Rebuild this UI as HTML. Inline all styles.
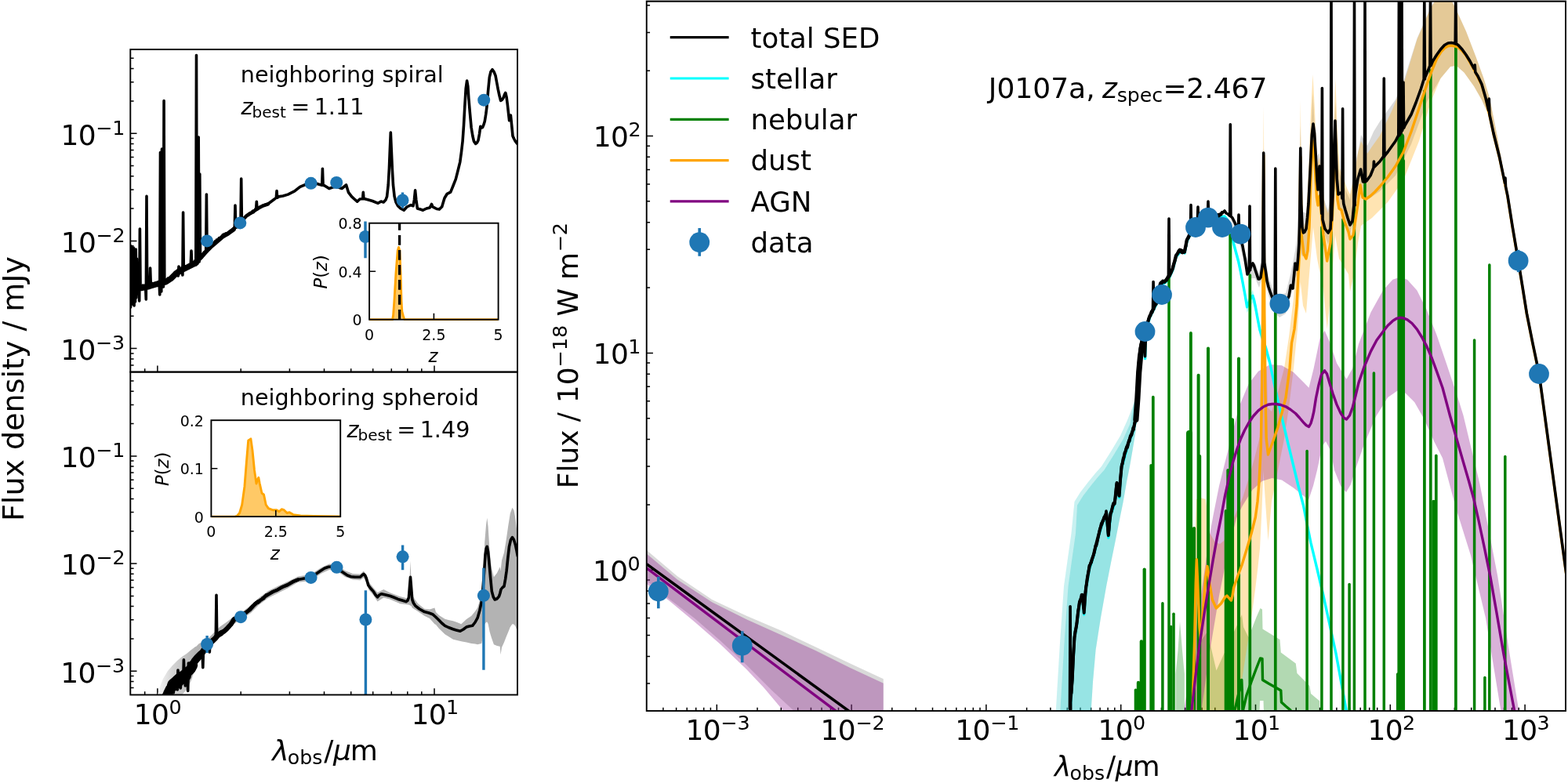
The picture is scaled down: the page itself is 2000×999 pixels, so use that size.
<!DOCTYPE html>
<html><head><meta charset="utf-8"><title>SED fits</title>
<style>
html,body{margin:0;padding:0;background:#fff;}
body{width:2000px;height:999px;overflow:hidden;}
svg{display:block;font-family:'DejaVu Sans', 'Liberation Sans', sans-serif;fill:#000;}
svg text{fill:#000;}
</style></head><body>
<svg width="2000" height="999" viewBox="0 0 2000 999">
<rect x="0" y="0" width="2000" height="999" fill="#fff"/>
<path d="M166.3,465.9 h4.3 M166.3,457.9 h4.3 M166.3,450.9 h4.3 M166.3,444.6 h8.2 M166.3,403.3 h4.3 M166.3,379.1 h4.3 M166.3,362.0 h4.3 M166.3,348.7 h4.3 M166.3,337.8 h4.3 M166.3,328.7 h4.3 M166.3,320.7 h4.3 M166.3,313.7 h4.3 M166.3,307.4 h8.2 M166.3,266.1 h4.3 M166.3,241.9 h4.3 M166.3,224.8 h4.3 M166.3,211.5 h4.3 M166.3,200.6 h4.3 M166.3,191.5 h4.3 M166.3,183.5 h4.3 M166.3,176.5 h4.3 M166.3,170.2 h8.2 M166.3,128.9 h4.3 M166.3,104.7 h4.3 M166.3,87.6 h4.3 M166.3,74.3 h4.3" stroke="#000" stroke-width="1.5" fill="none"/>
<text><tspan x="77.49" y="184.60" font-size="36" letter-spacing="-0.6">10</tspan><tspan x="122.10" y="171.60" font-size="25.4">−1</tspan></text>
<text><tspan x="77.69" y="321.80" font-size="36" letter-spacing="-0.6">10</tspan><tspan x="122.30" y="308.80" font-size="25.4">−2</tspan></text>
<text><tspan x="77.18" y="459.00" font-size="36" letter-spacing="-0.6">10</tspan><tspan x="121.79" y="446.00" font-size="25.4">−3</tspan></text>
<path d="M166.3,877.5 h4.3 M166.3,869.5 h4.3 M166.3,862.5 h4.3 M166.3,856.2 h8.2 M166.3,814.9 h4.3 M166.3,790.8 h4.3 M166.3,773.6 h4.3 M166.3,760.4 h4.3 M166.3,749.5 h4.3 M166.3,740.3 h4.3 M166.3,732.3 h4.3 M166.3,725.3 h4.3 M166.3,719.0 h8.2 M166.3,677.7 h4.3 M166.3,653.6 h4.3 M166.3,636.4 h4.3 M166.3,623.2 h4.3 M166.3,612.3 h4.3 M166.3,603.1 h4.3 M166.3,595.1 h4.3 M166.3,588.1 h4.3 M166.3,581.9 h8.2 M166.3,540.5 h4.3 M166.3,516.4 h4.3 M166.3,499.2 h4.3 M166.3,486.0 h4.3" stroke="#000" stroke-width="1.5" fill="none"/>
<text><tspan x="77.49" y="596.25" font-size="36" letter-spacing="-0.6">10</tspan><tspan x="122.10" y="583.25" font-size="25.4">−1</tspan></text>
<text><tspan x="77.69" y="733.45" font-size="36" letter-spacing="-0.6">10</tspan><tspan x="122.30" y="720.45" font-size="25.4">−2</tspan></text>
<text><tspan x="77.18" y="870.65" font-size="36" letter-spacing="-0.6">10</tspan><tspan x="121.79" y="857.65" font-size="25.4">−3</tspan></text>
<path d="M184.7,474.6 v-4.3 M200.9,474.6 v-8.2 M307.2,474.6 v-4.3 M369.4,474.6 v-4.3 M413.5,474.6 v-4.3 M447.7,474.6 v-4.3 M475.7,474.6 v-4.3 M499.3,474.6 v-4.3 M519.8,474.6 v-4.3 M537.8,474.6 v-4.3 M554.0,474.6 v-8.2" stroke="#000" stroke-width="1.5" fill="none"/>
<path d="M184.7,886.5 v-4.3 M200.9,886.5 v-8.2 M307.2,886.5 v-4.3 M369.4,886.5 v-4.3 M413.5,886.5 v-4.3 M447.7,886.5 v-4.3 M475.7,886.5 v-4.3 M499.3,886.5 v-4.3 M519.8,886.5 v-4.3 M537.8,886.5 v-4.3 M554.0,886.5 v-8.2" stroke="#000" stroke-width="1.5" fill="none"/>
<clipPath id="c1"><rect x="166.3" y="63.1" width="493.7" height="411.5"/></clipPath>
<g clip-path="url(#c1)">
<polyline points="180.0,367.5 190.0,365.5 200.0,362.5 212.0,359.5 218.0,355.5 224.0,349.5 232.0,344.5 240.0,340.5 250.0,335.5" fill="none" stroke="#000" stroke-width="7.5" stroke-linejoin="round" stroke-linecap="round"/>
<polyline points="250.0,334.8 257.0,327.8 264.0,319.8 270.0,313.8 277.0,307.8 284.0,301.8 291.0,297.8 298.0,292.8" fill="none" stroke="#000" stroke-width="5.5" stroke-linejoin="round" stroke-linecap="round"/>
<polyline points="298.0,292.3 306.0,284.3 314.0,275.7 323.8,269.4 330.1,265.3 336.0,262.3 342.0,260.3" fill="none" stroke="#000" stroke-width="4.4" stroke-linejoin="round" stroke-linecap="round"/>
<polyline points="165.9,372.2 166.6,392.0 167.3,314.0 168.0,372.2 166.3,372.4 167.3,372.2 167.4,371.8 168.1,380.0 168.8,318.0 169.5,371.8 168.3,371.8 168.9,370.6 169.6,388.0 170.3,316.0 171.0,370.6 169.3,371.7 170.3,370.6 170.4,369.2 171.1,390.0 171.8,322.0 172.5,369.2 171.3,370.7 171.8,368.5 172.5,385.0 173.2,318.0 173.9,368.5 172.3,367.7 173.0,369.5 173.7,380.0 174.4,330.0 175.1,369.5 173.3,368.6 174.3,369.6 175.3,368.3 176.3,368.7 177.0,366.5 177.7,384.0 178.4,292.0 179.1,366.5 177.3,365.9 178.3,366.6 179.3,365.5 180.3,366.1 181.3,366.0 182.3,364.1 183.3,364.5 184.3,364.5 185.3,366.2 185.6,364.1 186.3,382.0 187.0,250.4 187.7,364.1 186.3,365.5 187.3,363.5 188.3,365.2 189.3,363.1 190.3,364.3 190.9,362.3 191.6,342.0 192.3,362.3 191.3,362.5 192.3,361.8 193.3,364.1 194.3,361.8 195.3,361.6 196.3,363.6 197.3,362.9 198.3,360.9 199.3,362.6 200.3,361.0 201.3,361.2 202.3,359.5 203.1,360.6 203.8,376.0 204.5,194.5 205.2,360.6 203.3,361.5 204.3,360.5 205.1,360.2 205.8,372.0 206.5,190.0 207.2,360.2 205.3,361.1 206.3,360.6 207.3,358.6 207.7,357.8 208.4,366.0 209.1,128.5 209.8,357.8 208.3,358.5 209.3,357.7 210.3,357.4 211.3,356.9 212.3,357.2 213.3,357.4 214.3,355.0 215.3,356.3 216.3,354.6 217.3,353.9 218.3,354.7 219.3,352.6 220.3,351.1 221.3,350.6 222.3,350.3 223.3,347.4 224.3,349.2 225.3,345.8 226.3,347.3 226.6,344.8 227.3,352.0 228.0,340.0 228.7,344.8 227.3,347.0 228.3,343.9 229.3,345.6 230.3,343.7 231.3,343.7 232.2,341.0 232.9,351.0 233.6,271.0 234.3,341.0 232.3,341.4 233.3,341.0 234.3,340.9 235.3,342.7 236.3,339.9 237.3,341.1 238.3,341.1 239.3,340.7 240.3,338.4 241.3,337.9 242.3,337.9 243.3,336.4 244.0,320.0 244.7,336.4 243.3,338.2 244.3,335.7 245.3,337.1 246.3,336.7 247.3,336.4 248.3,333.5 249.1,332.4 249.8,338.0 250.5,70.6 251.2,332.4 249.3,335.7 250.3,332.5 251.3,332.2 251.8,332.0 252.5,334.0 253.2,175.0 253.9,332.0 252.3,332.0 253.3,332.0 253.4,329.6 254.1,334.0 254.8,222.0 255.5,329.6 254.3,329.2 255.3,330.0 256.3,327.8 257.3,326.1 258.3,325.0 259.3,323.4 260.3,322.0 261.3,321.0 262.3,321.5 262.7,320.9 263.4,248.0 264.1,320.9 263.3,321.3 264.3,317.7 265.3,316.3 266.3,318.2 267.3,315.8 268.3,314.4 269.3,312.9 270.3,313.0 271.3,312.9 272.3,310.9 273.3,309.9 274.3,308.0 275.3,309.7 276.3,306.2 277.3,306.7 278.3,306.9 279.3,303.9 280.3,304.9 281.3,304.7 282.3,302.8 283.3,302.5 284.3,299.6 285.3,300.1 286.3,298.6 287.3,300.1 288.3,297.9 289.3,297.8 290.3,298.9 291.3,297.8 292.3,297.5 293.3,295.2 294.3,294.6 295.3,294.6 296.3,293.2 297.3,291.9 298.3,291.4 299.3,289.4 300.0,262.0 300.7,289.4 299.3,289.6 300.3,289.3 301.3,290.2 302.3,289.1 303.3,287.1 304.3,285.7 305.3,284.2 306.3,282.4 307.0,282.1 307.7,228.0 308.4,282.1 307.3,281.9 308.3,282.4 309.3,281.6 310.3,279.0 311.3,279.2 312.3,278.1 313.3,276.7 314.3,275.7 315.3,275.3 316.3,273.5 317.3,273.9 318.3,272.0 319.3,271.9 320.3,272.2 321.3,271.3 322.3,269.4 323.3,270.8 324.3,269.2 325.3,268.4 326.3,266.0 326.6,267.0 327.3,257.2 328.0,267.0 327.3,267.0 328.3,265.4 329.3,266.0 330.1,265.0 336.0,262.0 342.0,260.0 350.5,253.7 352.3,252.3 353.0,243.6 353.7,252.3 355.4,250.9 361.0,250.0 367.3,248.1 375.7,243.9 382.7,238.3 389.7,235.5 396.7,233.5 403.0,234.0 407.9,235.5 410.7,236.3 411.4,215.2 412.1,236.3 414.2,236.9 419.8,240.6 424.0,239.0 429.0,238.0 436.0,240.5 441.6,236.0 444.4,245.3 448.6,250.9 452.0,254.0 455.6,257.2 459.0,254.0 461.2,253.7 462.6,253.7 463.3,245.3 464.0,253.7 465.4,253.7 470.0,255.0 475.2,256.5 482.2,259.3 486.0,257.0 489.2,257.9 492.0,255.0 493.6,250.6 495.2,236.0 496.4,215.0 497.4,190.0 498.3,169.1 499.2,190.0 500.3,215.0 501.5,236.0 503.1,250.6 505.0,258.0 507.5,262.7 511.0,266.0 515.2,268.2 519.0,264.0 524.0,261.6 527.0,262.7 528.4,255.0 529.6,242.9 530.8,255.0 532.4,266.0 536.0,267.0 539.5,268.2 544.0,266.0 548.3,264.9 550.5,260.5 552.0,264.0 553.8,264.9 557.0,266.5 560.4,267.1 563.7,263.8 565.4,258.0 567.0,252.8 570.3,247.3 574.7,245.1 578.0,237.0 581.3,228.6 584.0,218.0 586.8,206.6 588.5,194.0 590.1,180.1 591.5,160.0 592.8,136.1 594.2,113.0 595.6,103.0 596.8,110.0 597.8,125.1 599.5,145.0 601.1,162.5 602.8,173.0 604.4,180.1 606.7,183.4 608.5,182.0 610.0,179.0 611.5,171.0 612.8,161.4 614.2,163.0 615.5,162.5 617.0,159.0 618.3,154.8 619.7,146.0 621.0,136.1 622.6,116.0 624.3,98.6 626.0,91.5 628.0,88.7 630.0,91.5 632.0,96.4 633.6,105.0 635.3,114.1 637.0,122.0 638.6,128.4 640.3,127.5 641.9,125.1 643.4,121.0 644.8,118.5 646.1,124.0 647.4,133.9 648.5,144.0 649.6,153.7 650.5,149.0 651.4,147.1 652.7,160.0 654.0,173.5 655.6,177.0 657.3,180.1 660.6,184.5" fill="none" stroke="#000" stroke-width="3.6" stroke-linejoin="round" stroke-linecap="butt"/>
<line x1="466" y1="282.6" x2="466" y2="329.2" stroke="#1f77b4" stroke-width="3.4"/>
<circle cx="466" cy="302" r="8" fill="#1f77b4"/>
<circle cx="264" cy="307.4" r="8" fill="#1f77b4"/>
<circle cx="306.3" cy="284.4" r="8" fill="#1f77b4"/>
<circle cx="396.6" cy="233.8" r="8" fill="#1f77b4"/>
<circle cx="429.2" cy="233" r="8" fill="#1f77b4"/>
<line x1="513.5" y1="245.5" x2="513.5" y2="265.5" stroke="#1f77b4" stroke-width="3.4"/>
<circle cx="513.5" cy="255.5" r="8" fill="#1f77b4"/>
<circle cx="617.2" cy="127.7" r="8" fill="#1f77b4"/>
</g>
<clipPath id="c2"><rect x="166.3" y="474.6" width="493.7" height="411.9"/></clipPath>
<g clip-path="url(#c2)">
<linearGradient id="gfan" gradientUnits="userSpaceOnUse" x1="196" y1="0" x2="250" y2="0"><stop offset="0" stop-color="#ffffff"/><stop offset="0.45" stop-color="#d4d4d4"/><stop offset="1" stop-color="#b3b3b3"/></linearGradient>
<polygon points="201.0,886.5 204.0,876.0 208.0,866.0 214.0,856.0 220.0,849.0 226.0,843.0 232.0,838.0 238.0,834.0 244.0,829.0 248.0,826.0 250.0,825.0 250.0,850.0 248.0,856.0 244.0,868.0 238.0,880.0 232.0,886.5 226.0,886.5 220.0,886.5 214.0,886.5 208.0,886.5 204.0,886.5 201.0,886.5" fill="url(#gfan)" stroke="none"/>
<polygon points="248.0,826.0 250.0,825.0 254.0,821.0 262.0,818.0 270.0,810.0 280.0,800.0 290.0,793.0 300.0,785.0 310.0,780.0 320.0,772.0 330.0,763.0 342.0,754.0 354.0,748.0 367.0,742.0 380.0,735.5 396.0,733.0 410.0,724.0 420.0,719.5 430.0,720.5 440.0,728.0 450.0,732.0 459.4,732.5 463.8,728.5 467.2,733.0 470.0,742.0 476.3,750.0 481.5,755.9 489.3,752.0 497.0,756.0 510.2,761.1 520.6,763.7 522.5,740.0 523.5,715.5 524.6,742.0 525.8,759.8 533.0,770.0 541.4,776.7 548.0,777.5 554.4,775.4 556.0,781.0 560.0,785.0 567.5,789.7 572.0,791.0 577.9,792.3 583.0,794.0 588.3,796.2 595.0,790.0 601.3,785.8 606.0,780.0 609.1,775.4 612.0,766.0 614.3,754.6 616.0,735.0 617.5,712.0 618.2,692.1 620.0,670.0 621.3,660.8 622.6,672.0 624.7,705.1 627.0,725.0 629.9,736.3 634.0,731.0 637.7,723.3 638.6,728.0 640.0,715.0 643.0,705.1 645.5,690.0 648.2,671.2 650.8,655.0 653.4,647.8 655.5,651.0 657.3,660.8 659.0,675.0 660.4,692.1 660.4,809.2 659.0,803.0 657.3,798.8 655.5,796.5 653.4,796.2 650.8,800.0 648.2,806.6 645.5,813.0 643.0,819.6 640.0,826.0 638.6,835.2 637.7,824.8 634.0,824.0 629.9,822.2 627.0,814.0 624.7,806.6 622.6,796.0 621.3,793.6 620.0,794.0 618.2,796.2 617.5,802.0 616.0,812.0 614.3,820.9 612.0,821.5 609.1,822.2 606.0,821.5 601.3,820.9 595.0,819.5 588.3,818.3 583.0,817.0 577.9,815.7 572.0,812.0 567.5,809.2 560.0,802.0 556.0,797.0 554.4,796.2 548.0,789.0 541.4,785.8 533.0,780.0 525.8,775.4 524.6,773.0 523.5,772.8 522.5,772.0 520.6,771.5 510.2,770.2 497.0,764.5 489.3,762.4 481.5,767.6 476.3,759.5 470.0,752.0 467.2,743.0 463.8,737.0 459.4,740.2 450.0,739.5 440.0,736.0 430.0,728.5 420.0,727.0 410.0,731.5 396.0,741.0 380.0,743.0 367.0,750.5 354.0,757.0 342.0,763.0 330.0,772.0 320.0,782.0 310.0,789.0 300.0,795.0 290.0,803.0 280.0,812.0 270.0,822.0 262.0,831.0 254.0,841.0 250.0,850.0 248.0,856.0" fill="#b3b3b3" stroke="none"/>
<polyline points="208.0,899.0 210.6,892.9 214.0,885.0 217.2,878.5 221.0,874.0 223.0,872.3" fill="none" stroke="#000" stroke-width="12" stroke-linejoin="round" stroke-linecap="round"/>
<polyline points="221.0,874.0 226.0,869.7 230.0,866.0 234.9,863.1 236.0,862.0" fill="none" stroke="#000" stroke-width="16" stroke-linejoin="round" stroke-linecap="round"/>
<polyline points="234.0,862.6 234.9,862.1 239.0,858.0 243.7,853.3 246.0,848.7" fill="none" stroke="#000" stroke-width="12.5" stroke-linejoin="round" stroke-linecap="round"/>
<polyline points="244.0,852.0 248.1,843.8 252.0,839.1 256.0,835.1" fill="none" stroke="#000" stroke-width="9.5" stroke-linejoin="round" stroke-linecap="round"/>
<polyline points="254.0,836.8 256.9,834.0 260.0,829.9 264.1,826.0 268.0,821.2" fill="none" stroke="#000" stroke-width="8" stroke-linejoin="round" stroke-linecap="round"/>
<polyline points="266.0,823.5 269.0,819.8 274.5,814.4 277.8,810.5 282.0,808.0" fill="none" stroke="#000" stroke-width="7" stroke-linejoin="round" stroke-linecap="round"/>
<polyline points="280.0,808.9 283.0,807.2 287.7,804.0 291.0,800.4 294.3,796.8 298.7,790.0 300.0,789.5" fill="none" stroke="#000" stroke-width="6" stroke-linejoin="round" stroke-linecap="round"/>
<polyline points="298.0,791.1 298.7,790.0 303.0,788.5 307.1,787.2 313.0,782.0 318.5,778.0 323.0,773.0 327.3,769.2 330.0,767.5" fill="none" stroke="#000" stroke-width="5" stroke-linejoin="round" stroke-linecap="round"/>
<polyline points="328.0,768.8 330.0,767.5 333.9,764.8 338.0,761.0 342.7,758.2 348.0,755.0 353.7,752.7 360.0,749.0 367.0,746.1 374.0,742.0 380.0,739.6" fill="none" stroke="#000" stroke-width="4.4" stroke-linejoin="round" stroke-linecap="round"/>
<polyline points="208.0,894.6 208.9,890.5 209.8,893.9 210.7,885.5 211.6,888.5 212.5,884.5 213.4,879.0 214.3,882.0 215.2,875.0 216.1,877.5 217.0,871.7 217.9,870.7 218.8,873.3 219.7,876.6 220.6,870.1 221.3,884.0 222.0,872.0 222.7,870.1 220.6,867.8 221.5,868.0 222.4,871.7 223.3,874.4 224.2,869.6 225.1,866.8 225.6,862.3 226.3,880.0 227.0,855.0 227.7,862.3 226.0,872.4 226.9,861.4 227.8,869.5 228.7,862.4 229.6,859.9 230.3,878.0 231.0,866.0 231.7,859.9 229.6,860.0 230.5,859.0 231.4,860.6 232.3,865.6 233.0,862.0 233.7,870.0 234.4,841.8 235.1,862.0 233.2,858.1 234.1,862.0 235.0,862.0 235.6,857.8 236.3,875.0 237.0,860.0 237.7,857.8 235.9,858.2 236.8,859.2 237.7,853.0 238.6,852.1 239.0,857.1 239.7,881.5 240.4,846.0 241.1,857.1 239.5,852.8 240.4,857.1 241.3,853.4 242.2,851.3 243.1,853.3 244.0,850.7 244.9,847.2 245.8,850.8 246.7,848.0 247.6,841.2 248.5,843.3 249.4,841.7 250.3,843.0 251.2,840.9 252.1,836.7 253.0,840.7 253.9,833.7 254.8,835.0 255.7,836.4 256.6,831.3 257.5,832.6 258.1,831.4 258.8,851.7 259.5,828.0 260.2,831.4 258.4,828.3 259.3,831.5 260.2,831.1 261.1,828.9 262.0,829.2 262.9,825.8 263.8,826.6 264.7,825.2 265.6,824.0 266.5,822.4 266.6,822.5 267.3,832.0 268.0,818.0 268.7,822.5 267.4,823.0 268.3,822.3 269.2,819.2 270.1,819.2 271.0,815.6 271.9,817.5 272.8,816.4 273.7,817.0 274.6,815.4 275.3,811.6 276.0,759.3 276.7,811.6 275.5,811.9 276.4,811.3 277.3,811.5 278.2,807.8 279.1,809.2 280.0,807.4 280.9,806.7 281.8,805.9 282.7,808.5 283.6,805.1 284.5,805.0 285.4,805.1 286.3,806.6 287.2,802.5 288.1,803.3 289.0,802.8 289.9,803.3 290.8,802.0 291.7,801.2 292.6,797.7 293.5,797.3 294.4,796.0 295.3,796.9 296.2,795.9 297.1,790.9 298.0,789.7 298.9,788.8 299.8,788.4 300.7,789.3 301.6,789.2 302.5,788.1 303.4,787.1 304.3,787.9 305.2,787.5 306.1,787.7 307.0,788.4 307.9,787.0 308.8,785.7 309.7,785.2 310.6,784.6 311.5,782.2 312.4,783.6 313.3,782.5 314.2,782.1 315.1,781.2 316.0,779.5 316.9,778.9 317.8,777.5 318.7,778.1 319.6,775.6 320.5,774.7 321.4,774.0 322.3,772.9 323.2,772.4 324.1,770.9 325.0,769.9 325.9,769.5 326.8,768.6 327.7,768.6 328.6,767.1 329.5,768.8 330.4,767.5 331.3,765.7 332.2,765.3 333.1,765.0 334.0,764.4 334.9,762.9 335.8,763.9 336.7,763.5 337.6,761.3 338.5,760.7 339.4,759.1 342.7,758.2 348.0,755.0 353.7,752.7 360.0,749.0 367.0,746.1 374.0,742.0 380.2,739.5 388.0,738.0 396.0,736.8 402.0,733.0 408.6,728.5 414.0,725.0 419.1,723.3 424.0,723.0 429.5,724.5 434.0,728.0 438.6,731.1 443.0,734.0 447.7,735.8 453.0,736.2 459.4,736.3 461.8,734.0 463.8,732.4 465.6,734.0 467.2,737.6 468.5,742.0 469.8,746.7 473.0,751.0 476.3,754.6 479.0,759.0 481.5,761.8 484.0,759.0 486.7,757.7 492.0,759.0 497.2,760.3 502.0,762.0 507.6,764.4 513.0,766.0 518.0,767.6 520.0,766.0 521.4,762.4 522.4,750.0 523.5,736.3 524.6,750.0 525.8,765.0 527.5,769.5 529.7,772.8 535.0,777.0 541.4,780.6 547.0,782.0 551.8,783.7 555.5,787.0 559.6,791.0 563.5,795.0 567.5,798.3 572.0,800.5 577.9,802.7 582.0,804.0 587.0,805.3 591.0,803.0 594.8,800.1 598.5,799.0 602.6,798.3 606.0,794.0 609.1,788.4 611.8,779.0 614.3,767.6 615.7,754.0 616.9,738.9 618.0,723.0 619.0,707.7 620.1,700.0 621.3,697.3 622.6,704.0 623.9,718.1 625.6,737.0 627.3,754.6 629.2,761.5 631.2,765.0 633.8,764.0 636.4,761.1 637.8,757.0 639.0,752.0 641.0,749.5 643.0,748.0 644.6,739.0 646.1,728.5 647.8,712.0 649.5,697.3 651.4,689.0 653.4,685.6 655.4,688.5 657.3,694.7 658.9,702.0 660.4,710.3" fill="none" stroke="#000" stroke-width="3.6" stroke-linejoin="round"/>
<line x1="264.1" y1="811" x2="264.1" y2="833" stroke="#1f77b4" stroke-width="3.4"/>
<circle cx="264.1" cy="822" r="8" fill="#1f77b4"/>
<circle cx="307.1" cy="787.2" r="8" fill="#1f77b4"/>
<circle cx="396.6" cy="736.9" r="8" fill="#1f77b4"/>
<circle cx="429.5" cy="723.8" r="8" fill="#1f77b4"/>
<line x1="466.4" y1="753.3" x2="466.4" y2="890" stroke="#1f77b4" stroke-width="3.4"/>
<circle cx="466.4" cy="790.5" r="8" fill="#1f77b4"/>
<line x1="513.6" y1="695.5" x2="513.6" y2="727.2" stroke="#1f77b4" stroke-width="3.4"/>
<circle cx="513.6" cy="710.3" r="8" fill="#1f77b4"/>
<line x1="616.9" y1="724.6" x2="616.9" y2="854.8" stroke="#1f77b4" stroke-width="3.4"/>
<circle cx="616.9" cy="759.8" r="8" fill="#1f77b4"/>
</g>
<rect x="471.1" y="284.7" width="164.5" height="123.0" fill="#fff"/>
<clipPath id="ci1"><rect x="471.1" y="284.7" width="164.5" height="124.5"/></clipPath>
<g clip-path="url(#ci1)">
<polygon points="471.1,407.7 500.6,407.7 501.6,402.0 502.9,384.1 505.0,348.1 507.2,320.0 508.5,315.5 509.8,320.0 511.0,348.0 512.0,384.1 512.8,397.4 514.3,403.0 515.8,407.4 635.6,407.7" fill="#ffa500" fill-opacity="0.6" stroke="none"/>
<polyline points="471.1,407.7 500.6,407.7 501.6,402.0 502.9,384.1 505.0,348.1 507.2,320.0 508.5,315.5 509.8,320.0 511.0,348.0 512.0,384.1 512.8,397.4 514.3,403.0 515.8,407.4 635.6,407.7" fill="none" stroke="#ffa500" stroke-width="2.9" stroke-linejoin="round"/>
<line x1="509.6" y1="407.7" x2="509.6" y2="284.7" stroke="#000" stroke-width="3.3" stroke-dasharray="12.6 6.4"/>
</g>
<path d="M553.4,407.7 v-8 M471.1,346.2 h8" stroke="#000" stroke-width="1.6" fill="none"/>
<rect x="471.1" y="284.7" width="164.5" height="123.0" fill="none" stroke="#000" stroke-width="1.9"/>
<text x="461.6" y="292.3" font-size="19" text-anchor="end">0.8</text>
<text x="461.6" y="353.8" font-size="19" text-anchor="end">0.4</text>
<text x="461.6" y="415.3" font-size="19" text-anchor="end">0</text>
<text x="471.1" y="433.9" font-size="19" text-anchor="middle">0</text>
<text x="553.4" y="433.9" font-size="19" text-anchor="middle">2.5</text>
<text x="635.6" y="433.9" font-size="19" text-anchor="middle">5</text>
<text x="552.4" y="462.3" font-size="22.8" font-style="italic" text-anchor="middle">z</text>
<text transform="translate(417.0,346.8) rotate(-90)" font-size="22.8" text-anchor="middle"><tspan font-style="italic">P</tspan>(<tspan font-style="italic">z</tspan>)</text>
<rect x="269.4" y="536.2" width="164.8" height="122.89999999999998" fill="#fff"/>
<clipPath id="ci2"><rect x="269.4" y="536.2" width="164.8" height="124.39999999999998"/></clipPath>
<g clip-path="url(#ci2)">
<polygon points="269.4,659.1 300.0,659.0 302.4,658.3 305.6,654.5 308.7,644.0 311.9,620.9 314.4,589.4 316.7,562.0 318.3,561.0 319.9,559.9 322.0,574.6 324.5,599.9 327.0,617.1 328.5,612.0 329.8,609.3 331.2,616.7 334.0,629.3 336.5,631.0 339.2,644.0 342.4,648.6 347.6,650.7 352.9,650.7 356.0,652.8 359.2,649.7 362.3,650.7 366.1,654.5 369.3,653.7 373.9,656.6 383.4,657.9 400.2,658.5 434.2,659.0" fill="#ffa500" fill-opacity="0.6" stroke="none"/>
<polyline points="269.4,659.1 300.0,659.0 302.4,658.3 305.6,654.5 308.7,644.0 311.9,620.9 314.4,589.4 316.7,562.0 318.3,561.0 319.9,559.9 322.0,574.6 324.5,599.9 327.0,617.1 328.5,612.0 329.8,609.3 331.2,616.7 334.0,629.3 336.5,631.0 339.2,644.0 342.4,648.6 347.6,650.7 352.9,650.7 356.0,652.8 359.2,649.7 362.3,650.7 366.1,654.5 369.3,653.7 373.9,656.6 383.4,657.9 400.2,658.5 434.2,659.0" fill="none" stroke="#ffa500" stroke-width="2.9" stroke-linejoin="round"/>
</g>
<path d="M351.8,659.1 v-8 M269.4,597.7 h8" stroke="#000" stroke-width="1.6" fill="none"/>
<rect x="269.4" y="536.2" width="164.8" height="122.89999999999998" fill="none" stroke="#000" stroke-width="1.9"/>
<text x="259.9" y="543.8" font-size="19" text-anchor="end">0.2</text>
<text x="259.9" y="605.3" font-size="19" text-anchor="end">0.1</text>
<text x="259.9" y="666.7" font-size="19" text-anchor="end">0</text>
<text x="269.4" y="685.3" font-size="19" text-anchor="middle">0</text>
<text x="351.8" y="685.3" font-size="19" text-anchor="middle">2.5</text>
<text x="434.2" y="685.3" font-size="19" text-anchor="middle">5</text>
<text x="350.8" y="713.7" font-size="22.8" font-style="italic" text-anchor="middle">z</text>
<text transform="translate(215.3,598.3) rotate(-90)" font-size="22.8" text-anchor="middle"><tspan font-style="italic">P</tspan>(<tspan font-style="italic">z</tspan>)</text>
<text><tspan x="170.78" y="923.80" font-size="36" letter-spacing="-0.6">10</tspan><tspan x="215.39" y="910.80" font-size="25.4">0</tspan></text>
<text><tspan x="524.51" y="923.80" font-size="36" letter-spacing="-0.6">10</tspan><tspan x="569.12" y="910.80" font-size="25.4">1</tspan></text>
<rect x="166.3" y="63.1" width="493.7" height="411.5" fill="none" stroke="#000" stroke-width="1.9"/>
<rect x="166.3" y="474.6" width="493.7" height="411.9" fill="none" stroke="#000" stroke-width="1.9"/>
<text transform="translate(29.7,665) rotate(-90)" font-size="38">Flux density / mJy</text>
<text><tspan x="347.28" y="969.50" font-size="36.00" font-style="italic">λ</tspan><tspan x="366.81" y="974.50" font-size="25.20">obs</tspan><tspan x="413.20" y="969.50" font-size="36.00">/</tspan><tspan x="424.97" y="969.50" font-size="36.00" font-style="italic">μ</tspan><tspan x="446.73" y="969.50" font-size="36.00">m</tspan></text>
<text><tspan x="306.80" y="104.50" font-size="28.60">neighboring spiral</tspan></text>
<text><tspan x="307.48" y="145.80" font-size="28.60" font-style="italic">z</tspan><tspan x="321.48" y="150.25" font-size="20.02">best </tspan><tspan x="371.27" y="145.80" font-size="28.60">= </tspan><tspan x="400.66" y="145.80" font-size="28.60">1.11</tspan></text>
<text><tspan x="306.80" y="516.50" font-size="28.60">neighboring spheroid</tspan></text>
<text><tspan x="442.48" y="557.80" font-size="28.60" font-style="italic">z</tspan><tspan x="456.48" y="562.25" font-size="20.02">best </tspan><tspan x="506.27" y="557.80" font-size="28.60">= </tspan><tspan x="535.66" y="557.80" font-size="28.60">1.49</tspan></text>
<path d="M845.9,907.0 v-4.3 M862.6,907.0 v-4.3 M876.2,907.0 v-4.3 M887.7,907.0 v-4.3 M897.7,907.0 v-4.3 M906.4,907.0 v-4.3 M914.3,907.0 v-8.2 M966.0,907.0 v-4.3 M996.3,907.0 v-4.3 M1017.7,907.0 v-4.3 M1034.4,907.0 v-4.3 M1048.0,907.0 v-4.3 M1059.5,907.0 v-4.3 M1069.5,907.0 v-4.3 M1078.2,907.0 v-4.3 M1086.1,907.0 v-8.2 M1137.8,907.0 v-4.3 M1168.1,907.0 v-4.3 M1189.5,907.0 v-4.3 M1206.2,907.0 v-4.3 M1219.8,907.0 v-4.3 M1231.3,907.0 v-4.3 M1241.3,907.0 v-4.3 M1250.0,907.0 v-4.3 M1257.9,907.0 v-8.2 M1309.6,907.0 v-4.3 M1339.9,907.0 v-4.3 M1361.3,907.0 v-4.3 M1378.0,907.0 v-4.3 M1391.6,907.0 v-4.3 M1403.1,907.0 v-4.3 M1413.1,907.0 v-4.3 M1421.8,907.0 v-4.3 M1429.7,907.0 v-8.2 M1481.4,907.0 v-4.3 M1511.7,907.0 v-4.3 M1533.1,907.0 v-4.3 M1549.8,907.0 v-4.3 M1563.4,907.0 v-4.3 M1574.9,907.0 v-4.3 M1584.9,907.0 v-4.3 M1593.6,907.0 v-4.3 M1601.5,907.0 v-8.2 M1653.2,907.0 v-4.3 M1683.5,907.0 v-4.3 M1704.9,907.0 v-4.3 M1721.6,907.0 v-4.3 M1735.2,907.0 v-4.3 M1746.7,907.0 v-4.3 M1756.7,907.0 v-4.3 M1765.4,907.0 v-4.3 M1773.3,907.0 v-8.2 M1825.0,907.0 v-4.3 M1855.3,907.0 v-4.3 M1876.7,907.0 v-4.3 M1893.4,907.0 v-4.3 M1907.0,907.0 v-4.3 M1918.5,907.0 v-4.3 M1928.5,907.0 v-4.3 M1937.2,907.0 v-4.3 M1945.1,907.0 v-8.2 M824.75,872.0 h4.3 M824.75,837.4 h4.3 M824.75,810.5 h4.3 M824.75,788.6 h4.3 M824.75,770.1 h4.3 M824.75,754.0 h4.3 M824.75,739.9 h4.3 M824.75,727.2 h8.2 M824.75,643.9 h4.3 M824.75,595.1 h4.3 M824.75,560.5 h4.3 M824.75,533.7 h4.3 M824.75,511.8 h4.3 M824.75,493.2 h4.3 M824.75,477.2 h4.3 M824.75,463.0 h4.3 M824.75,450.4 h8.2 M824.75,367.0 h4.3 M824.75,318.3 h4.3 M824.75,283.7 h4.3 M824.75,256.8 h4.3 M824.75,234.9 h4.3 M824.75,216.4 h4.3 M824.75,200.3 h4.3 M824.75,186.2 h4.3 M824.75,173.5 h8.2 M824.75,90.2 h4.3 M824.75,41.4 h4.3 M824.75,6.8 h4.3" stroke="#000" stroke-width="1.5" fill="none"/>
<clipPath id="cr"><rect x="824.75" y="1.25" width="1172.25" height="905.75"/></clipPath>
<g clip-path="url(#cr)">
<g fill="#808080" fill-opacity="0.3" stroke="none">
<polygon points="824.8,702.1 864.0,735.2 908.1,764.9 952.2,785.8 996.2,804.5 1040.3,825.5 1084.3,846.4 1126.8,866.2 1126.8,910.0 1015.0,910.0 1011.6,905.9 985.2,881.6 952.2,848.6 919.1,817.8 886.1,789.1 853.0,763.8 824.8,741.0"/>
<polygon points="1352.1,910.0 1354.5,870.0 1357.5,820.0 1362.5,748.0 1367.5,712.0 1372.0,680.5 1374.0,644.5 1381.5,632.5 1391.5,619.5 1400.5,608.5 1408.5,599.5 1420.5,580.5 1432.5,560.5 1441.5,540.5 1445.6,517.0 1450.0,500.0 1451.6,473.0 1454.6,440.0 1460.0,424.0 1460.0,427.0 1455.2,444.0 1452.2,477.0 1450.6,510.0 1448.6,550.0 1445.0,572.0 1441.0,595.0 1437.0,615.0 1432.7,640.0 1427.0,668.0 1421.9,694.0 1417.0,718.0 1411.1,748.1 1404.0,788.0 1397.6,829.0 1394.0,870.0 1391.5,910.0"/>
<polygon points="1570.0,278.0 1580.0,294.0 1588.0,324.0 1594.0,336.0 1601.0,336.0 1606.0,348.0 1609.0,328.0 1611.4,188.0 1614.0,328.0 1618.0,353.0 1624.0,370.0 1632.0,376.0 1640.0,374.0 1646.0,350.0 1652.0,320.0 1656.0,290.0 1658.8,160.0 1661.0,270.0 1666.0,272.0 1670.0,210.0 1674.5,120.0 1679.0,200.0 1683.0,195.0 1687.0,250.0 1694.0,268.0 1699.0,240.0 1703.3,130.0 1707.0,215.0 1713.0,235.0 1722.0,255.0 1727.0,215.0 1733.0,190.0 1736.0,172.0 1744.0,186.0 1752.0,168.0 1760.0,155.0 1770.0,141.0 1780.0,127.0 1792.0,98.0 1807.5,49.0 1825.0,9.0 1832.5,-2.0 1850.0,-2.0 1857.5,12.5 1870.0,40.0 1882.5,72.5 1892.5,100.0 1900.0,125.0 1910.0,175.0 1923.0,248.0 1936.6,331.0 1963.0,475.0 1997.0,724.0 1997.0,728.0 1963.0,479.0 1936.6,334.0 1923.0,252.0 1910.0,190.0 1900.0,150.0 1890.0,127.5 1880.0,110.0 1867.5,92.5 1857.5,83.8 1850.0,85.0 1837.5,100.0 1820.0,130.0 1800.0,184.0 1780.0,224.0 1760.0,244.0 1740.0,258.0 1736.0,240.0 1733.0,250.0 1727.0,275.0 1722.0,300.0 1713.0,275.0 1707.0,262.0 1703.3,180.0 1699.0,290.0 1694.0,312.0 1687.0,292.0 1683.0,245.0 1679.0,240.0 1674.5,190.0 1670.0,282.0 1666.0,327.0 1661.0,327.0 1658.8,322.0 1656.0,347.0 1652.0,355.0 1646.0,379.0 1640.0,400.0 1632.0,405.0 1624.0,397.0 1618.0,377.0 1611.4,350.0 1606.0,367.0 1601.0,355.0 1594.0,355.0 1588.0,339.0 1580.0,307.0 1570.0,280.0"/>
</g>
<polygon points="1346.6,910.0 1349.0,870.0 1352.0,820.0 1357.0,748.0 1362.0,712.0 1366.5,680.5 1370.5,640.0 1378.0,628.0 1388.0,615.0 1397.0,604.0 1405.0,595.0 1417.0,576.0 1429.0,556.0 1438.0,536.0 1445.6,517.0 1450.0,500.0 1451.6,473.0 1454.6,440.0 1460.0,424.0 1460.0,424.0 1454.6,440.0 1451.6,473.0 1450.0,500.0 1445.6,517.0 1441.5,540.5 1432.5,560.5 1420.5,580.5 1408.5,599.5 1400.5,608.5 1391.5,619.5 1381.5,632.5 1374.0,644.5 1372.0,680.5 1367.5,712.0 1362.5,748.0 1357.5,820.0 1354.5,870.0 1352.1,910.0" fill="#808080" fill-opacity="0.13" stroke="none"/>
<polygon points="1346.6,910.0 1349.0,870.0 1352.0,820.0 1357.0,748.0 1362.0,712.0 1366.5,680.5 1370.5,640.0 1378.0,628.0 1388.0,615.0 1397.0,604.0 1405.0,595.0 1417.0,576.0 1429.0,556.0 1438.0,536.0 1445.6,517.0 1450.0,500.0 1451.6,473.0 1454.6,440.0 1460.0,424.0 1460.0,424.0 1454.6,440.0 1451.6,473.0 1450.0,500.0 1445.6,517.0 1441.5,540.5 1432.5,560.5 1420.5,580.5 1408.5,599.5 1400.5,608.5 1391.5,619.5 1381.5,632.5 1374.0,644.5 1372.0,680.5 1367.5,712.0 1362.5,748.0 1357.5,820.0 1354.5,870.0 1352.1,910.0" fill="#00ffff" fill-opacity="0.16" stroke="none"/>
<g fill="#00ffff" fill-opacity="0.3" stroke="none">
<polygon points="1352.1,910.0 1354.5,870.0 1357.5,820.0 1362.5,748.0 1367.5,712.0 1372.0,680.5 1374.0,644.5 1381.5,632.5 1391.5,619.5 1400.5,608.5 1408.5,599.5 1420.5,580.5 1432.5,560.5 1441.5,540.5 1445.6,517.0 1450.0,500.0 1451.6,473.0 1454.6,440.0 1460.0,424.0 1460.0,427.0 1455.2,444.0 1452.2,477.0 1450.6,510.0 1448.6,550.0 1445.0,572.0 1441.0,595.0 1437.0,615.0 1432.7,640.0 1427.0,668.0 1421.9,694.0 1417.0,718.0 1411.1,748.1 1404.0,788.0 1397.6,829.0 1394.0,870.0 1391.5,910.0"/>
<polygon points="1566.0,276.0 1573.5,304.0 1579.8,327.0 1585.2,354.0 1590.6,384.0 1597.8,370.0 1601.4,384.0 1606.8,413.0 1620.0,458.0 1635.0,528.0 1650.0,590.0 1662.5,640.0 1672.0,688.0 1688.0,755.0 1704.0,829.0 1719.0,905.7 1720.0,910.0 1715.0,910.0 1715.0,905.7 1704.0,838.0 1688.0,765.0 1672.0,698.0 1662.5,650.0 1650.0,600.0 1635.0,538.0 1620.0,470.0 1606.8,428.0 1601.4,399.0 1597.8,386.0 1590.6,399.0 1585.2,368.0 1579.8,341.0 1573.5,316.0 1566.0,284.0"/>
</g>
<g fill="#008000" fill-opacity="0.3" stroke="none">
<polygon points="1499.5,910.0 1499.5,860.0 1502.5,830.0 1505.0,793.0 1508.0,830.0 1510.8,860.0 1510.8,910.0"/>
<polygon points="1531.0,910.0 1531.5,818.0 1540.0,806.0 1551.5,855.5 1584.0,784.0 1586.0,800.0 1592.5,813.0 1602.5,787.5 1607.5,776.0 1610.0,777.5 1610.5,802.5 1632.5,816.0 1633.8,832.5 1652.8,846.4 1654.4,859.0 1670.4,875.0 1672.0,885.0 1683.3,894.5 1683.3,910.0 1612.0,910.0 1611.5,894.0 1607.0,894.0 1606.5,910.0"/>
</g>
<g fill="#ffa500" fill-opacity="0.3" stroke="none">
<polygon points="1518.0,910.0 1521.0,850.0 1523.0,720.0 1526.0,637.0 1531.0,635.0 1538.0,637.0 1543.0,680.0 1550.0,692.0 1556.0,694.0 1561.0,690.0 1568.0,675.0 1577.0,653.0 1585.0,635.0 1593.8,607.0 1600.0,585.0 1607.0,557.0 1609.5,400.0 1611.7,135.0 1614.0,400.0 1617.0,520.0 1622.0,525.0 1630.0,500.0 1638.0,470.0 1644.0,430.0 1650.0,380.0 1655.0,320.0 1657.5,250.0 1658.8,127.5 1660.2,250.0 1663.0,290.0 1666.0,280.0 1669.0,220.0 1672.0,140.0 1674.5,95.0 1677.0,140.0 1680.0,210.0 1683.0,200.0 1686.0,230.0 1690.0,262.0 1694.0,272.0 1698.0,250.0 1701.0,170.0 1703.3,100.0 1706.0,170.0 1709.0,215.0 1713.0,225.0 1718.0,240.0 1722.0,248.0 1727.0,225.0 1732.0,195.0 1736.0,180.0 1744.0,196.0 1750.0,187.0 1760.0,173.0 1775.0,142.0 1792.5,100.0 1807.5,50.0 1825.0,10.0 1832.5,-2.0 1850.0,-2.0 1857.5,12.5 1870.0,40.0 1882.5,72.5 1892.5,100.0 1900.0,125.0 1910.0,175.0 1923.0,248.0 1936.6,331.0 1963.0,475.0 1997.0,724.0 1997.0,728.0 1963.0,479.0 1936.6,334.0 1923.0,252.0 1910.0,190.0 1900.0,150.0 1890.0,127.5 1880.0,110.0 1867.5,92.5 1857.5,83.8 1850.0,85.0 1837.5,100.0 1825.0,130.0 1810.0,180.0 1790.0,230.0 1770.0,258.0 1750.0,278.0 1736.0,288.0 1732.0,310.0 1727.0,350.0 1722.0,372.0 1720.0,350.0 1714.0,340.0 1708.0,330.0 1703.0,300.0 1697.0,380.0 1692.7,420.0 1688.0,370.0 1684.0,350.0 1680.0,330.0 1675.0,290.0 1670.0,350.0 1666.0,400.0 1662.0,390.0 1658.8,360.0 1655.0,420.0 1650.0,470.0 1644.0,520.0 1638.0,560.0 1630.0,600.0 1622.0,640.0 1617.5,690.0 1614.0,640.0 1611.4,600.0 1609.5,650.0 1607.0,700.0 1604.0,728.0 1601.0,752.5 1597.0,782.0 1592.5,813.5 1588.0,842.0 1584.0,868.0 1580.5,910.0"/>
</g>
<g fill="#800080" fill-opacity="0.3" stroke="none">
<polygon points="824.8,706.5 864.0,739.6 908.1,768.2 952.2,790.2 996.2,810.0 1040.3,829.9 1084.3,851.9 1126.8,871.7 1126.8,910.0 1002.0,910.0 998.4,905.9 974.2,877.2 952.2,854.1 919.1,822.2 886.1,793.5 853.0,766.0 824.8,745.1"/>
<polygon points="1509.0,910.0 1510.0,906.0 1517.5,860.0 1530.0,772.5 1542.5,685.0 1547.5,657.5 1555.0,620.0 1567.5,570.0 1580.0,520.0 1592.5,490.0 1605.0,473.8 1620.0,465.0 1635.0,466.3 1650.0,475.0 1662.5,487.5 1669.5,494.7 1675.7,469.8 1683.4,432.6 1689.6,421.8 1695.8,435.7 1705.1,463.6 1717.5,483.8 1725.3,469.8 1733.0,438.8 1748.5,398.5 1764.0,370.6 1776.4,356.7 1785.7,353.6 1795.0,356.7 1807.4,370.6 1819.8,395.4 1832.2,426.4 1845.0,464.0 1860.0,509.0 1866.5,530.0 1887.5,617.5 1910.3,735.3 1925.5,834.0 1936.9,904.5 1938.0,910.0 1915.0,910.0 1914.0,904.5 1895.0,788.6 1876.0,708.7 1857.0,648.0 1840.0,584.6 1829.1,562.9 1816.7,535.0 1804.3,513.3 1792.0,500.9 1782.6,498.4 1770.2,507.0 1754.7,531.9 1739.2,569.0 1728.4,600.0 1723.0,618.0 1717.0,628.0 1710.0,620.0 1702.0,600.0 1697.4,575.3 1691.0,563.0 1686.5,569.0 1680.0,600.0 1675.0,620.0 1669.0,638.0 1662.5,632.5 1650.0,622.5 1635.0,612.5 1622.5,610.0 1610.0,613.8 1597.5,625.0 1585.0,645.0 1577.5,660.0 1567.5,697.5 1555.0,760.0 1542.5,835.0 1532.5,906.0 1533.0,910.0"/>
</g>
<polyline points="1364.6,910.0 1365.5,900.0 1367.8,866.0 1370.5,815.0 1373.2,799.0 1377.3,769.0 1380.5,761.0 1382.7,784.0 1385.4,750.0 1389.5,726.0 1394.9,709.6 1400.3,688.0 1405.7,669.0 1411.1,657.0 1413.8,686.0 1416.5,658.0 1421.9,642.0 1424.6,618.3 1427.6,635.0 1430.6,597.3 1438.1,570.2 1445.6,549.2 1448.6,537.2 1450.1,510.2 1451.6,477.1 1454.6,444.1 1459.4,430.0 1460.6,457.6 1461.8,422.0 1466.6,405.1 1471.1,396.1 1475.6,387.0 1480.0,364.0 1487.0,360.0 1491.6,354.0 1496.0,344.0 1500.0,328.0 1506.0,321.0 1511.0,323.0 1514.0,308.0 1518.0,300.0 1525.0,289.0 1532.0,280.5 1541.0,279.0 1550.0,279.0 1558.0,277.0 1562.0,276.0 1566.0,281.0 1570.0,294.0 1573.5,310.6 1576.5,322.0 1579.8,334.0 1582.5,347.0 1585.2,361.0 1588.0,376.0 1590.6,391.7 1593.0,386.0 1595.5,380.0 1597.8,377.3 1599.6,383.0 1601.4,391.7 1604.0,406.0 1606.8,420.5 1610.5,432.0 1614.0,442.0 1619.5,462.0 1627.0,498.0 1635.0,532.5 1642.0,562.0 1650.0,595.0 1656.0,620.0 1662.5,645.0 1667.0,668.0 1672.0,692.6 1680.0,726.0 1688.0,760.0 1696.0,797.0 1704.0,833.6 1711.0,872.0 1717.0,905.7 1718.0,910.0" fill="none" stroke="#00ffff" stroke-width="3.4" stroke-linejoin="round"/>
<line x1="1448.6" y1="910" x2="1448.6" y2="880.5" stroke="#008000" stroke-width="3.8" stroke-linecap="round"/>
<line x1="1452.0" y1="910" x2="1452.0" y2="871" stroke="#008000" stroke-width="4.4" stroke-linecap="round"/>
<line x1="1455.9" y1="910" x2="1455.9" y2="818.4" stroke="#008000" stroke-width="4.4" stroke-linecap="round"/>
<line x1="1459.7" y1="910" x2="1459.7" y2="726.5" stroke="#008000" stroke-width="4.2" stroke-linecap="round"/>
<line x1="1468.1" y1="910" x2="1468.1" y2="593.8" stroke="#008000" stroke-width="3.5" stroke-linecap="round"/>
<line x1="1470.8" y1="910" x2="1470.8" y2="506.7" stroke="#008000" stroke-width="3.7" stroke-linecap="round"/>
<line x1="1482.9" y1="910" x2="1482.9" y2="769.7" stroke="#008000" stroke-width="3.5" stroke-linecap="round"/>
<line x1="1491" y1="910" x2="1491" y2="355" stroke="#008000" stroke-width="3.5" stroke-linecap="round"/>
<line x1="1493.6" y1="910" x2="1493.6" y2="799.5" stroke="#008000" stroke-width="3.5" stroke-linecap="round"/>
<line x1="1497" y1="910" x2="1497" y2="783.2" stroke="#008000" stroke-width="3.5" stroke-linecap="round"/>
<line x1="1517" y1="910" x2="1517" y2="553" stroke="#008000" stroke-width="8.0" stroke-linecap="round"/>
<line x1="1518.9" y1="910" x2="1518.9" y2="425" stroke="#008000" stroke-width="3.8" stroke-linecap="round"/>
<line x1="1523" y1="910" x2="1523" y2="674" stroke="#008000" stroke-width="4.2" stroke-linecap="round"/>
<line x1="1528.6" y1="910" x2="1528.6" y2="478.7" stroke="#008000" stroke-width="4.0" stroke-linecap="round"/>
<line x1="1530.2" y1="910" x2="1530.2" y2="582" stroke="#008000" stroke-width="4.0" stroke-linecap="round"/>
<line x1="1541" y1="910" x2="1541" y2="444.5" stroke="#008000" stroke-width="4.0" stroke-linecap="round"/>
<line x1="1563.6" y1="910" x2="1563.6" y2="652" stroke="#008000" stroke-width="3.8" stroke-linecap="round"/>
<line x1="1566.3" y1="910" x2="1566.3" y2="600" stroke="#008000" stroke-width="4.0" stroke-linecap="round"/>
<line x1="1569.3" y1="910" x2="1569.3" y2="300" stroke="#008000" stroke-width="4.0" stroke-linecap="round"/>
<line x1="1571.3" y1="910" x2="1571.3" y2="536" stroke="#008000" stroke-width="5.5" stroke-linecap="round"/>
<line x1="1580" y1="910" x2="1580" y2="457.5" stroke="#008000" stroke-width="4.0" stroke-linecap="round"/>
<line x1="1594.3" y1="910" x2="1594.3" y2="351" stroke="#008000" stroke-width="3.7" stroke-linecap="round"/>
<line x1="1626.8" y1="910" x2="1626.8" y2="398" stroke="#008000" stroke-width="3.7" stroke-linecap="round"/>
<line x1="1667.1" y1="910" x2="1667.1" y2="575.5" stroke="#008000" stroke-width="3.5" stroke-linecap="round"/>
<line x1="1685.9" y1="910" x2="1685.9" y2="290" stroke="#008000" stroke-width="3.5" stroke-linecap="round"/>
<line x1="1698" y1="910" x2="1698" y2="296" stroke="#008000" stroke-width="3.5" stroke-linecap="round"/>
<line x1="1712.9" y1="910" x2="1712.9" y2="280" stroke="#008000" stroke-width="3.5" stroke-linecap="round"/>
<line x1="1721.1" y1="910" x2="1721.1" y2="745.4" stroke="#008000" stroke-width="3.5" stroke-linecap="round"/>
<line x1="1727.4" y1="910" x2="1727.4" y2="262" stroke="#008000" stroke-width="3.5" stroke-linecap="round"/>
<line x1="1741" y1="910" x2="1741" y2="232" stroke="#008000" stroke-width="3.5" stroke-linecap="round"/>
<line x1="1752.4" y1="910" x2="1752.4" y2="476" stroke="#008000" stroke-width="3.5" stroke-linecap="round"/>
<line x1="1765.3" y1="910" x2="1765.3" y2="200" stroke="#008000" stroke-width="3.5" stroke-linecap="round"/>
<line x1="1782.8" y1="910" x2="1782.8" y2="860" stroke="#008000" stroke-width="3.7" stroke-linecap="round"/>
<line x1="1786.8" y1="910" x2="1786.8" y2="174" stroke="#008000" stroke-width="8.8" stroke-linecap="round"/>
<line x1="1790.3" y1="910" x2="1790.3" y2="205" stroke="#008000" stroke-width="3.5" stroke-linecap="round"/>
<line x1="1816.9" y1="910" x2="1816.9" y2="116" stroke="#008000" stroke-width="3.7" stroke-linecap="round"/>
<line x1="1824.8" y1="910" x2="1824.8" y2="90" stroke="#008000" stroke-width="3.7" stroke-linecap="round"/>
<line x1="1828.6" y1="910" x2="1828.6" y2="640" stroke="#008000" stroke-width="4.3" stroke-linecap="round"/>
<line x1="1831.8" y1="910" x2="1831.8" y2="581.4" stroke="#008000" stroke-width="3.7" stroke-linecap="round"/>
<line x1="1856.9" y1="910" x2="1856.9" y2="57" stroke="#008000" stroke-width="3.7" stroke-linecap="round"/>
<line x1="1880.6" y1="910" x2="1880.6" y2="434" stroke="#008000" stroke-width="3.5" stroke-linecap="round"/>
<line x1="1893.9" y1="910" x2="1893.9" y2="864.6" stroke="#008000" stroke-width="3.5" stroke-linecap="round"/>
<line x1="1899.8" y1="910" x2="1899.8" y2="338" stroke="#008000" stroke-width="3.5" stroke-linecap="round"/>
<line x1="1919.8" y1="910" x2="1919.8" y2="582.5" stroke="#008000" stroke-width="3.5" stroke-linecap="round"/>
<polyline points="1574.5,910.0 1575.0,906.0 1578.0,893.0 1581.0,880.0 1583.0,868.0 1583.8,867.5 1584.3,880.0 1584.8,906.0 1585.5,906.0 1590.0,887.0 1596.0,870.0 1602.0,854.0 1607.5,840.0 1610.0,840.5 1610.5,867.5 1618.0,872.0 1626.0,876.5 1633.8,881.0 1634.5,896.0 1640.0,901.0 1646.0,906.0 1647.0,910.0" fill="none" stroke="#008000" stroke-width="3.4" stroke-linejoin="round"/>
<polyline points="1520.5,910.0 1521.5,890.0 1523.8,810.0 1525.2,745.0 1526.3,713.8 1527.5,740.0 1528.8,772.5 1530.0,800.0 1531.3,815.0 1533.0,800.0 1535.0,772.5 1538.0,735.0 1540.0,722.5 1541.2,730.0 1542.5,742.5 1546.3,765.0 1551.3,776.0 1557.5,770.0 1562.5,762.0 1565.0,760.0 1568.0,763.5 1570.4,766.0 1572.0,760.0 1573.6,750.0 1578.0,737.0 1584.0,721.0 1590.4,700.0 1596.0,681.0 1601.3,660.0 1604.0,640.0 1606.0,615.0 1608.3,570.0 1609.6,495.0 1610.6,400.0 1611.7,198.0 1612.8,400.0 1613.8,495.0 1615.2,560.0 1617.5,580.0 1623.0,565.0 1630.0,545.0 1636.0,523.0 1640.0,507.5 1645.0,470.0 1647.5,437.5 1651.0,420.0 1654.0,390.0 1656.0,350.0 1657.6,321.0 1658.8,200.0 1660.2,300.0 1663.0,324.0 1666.0,330.0 1668.0,320.0 1670.0,290.0 1672.0,228.0 1673.5,196.0 1675.0,180.0 1676.6,198.0 1678.0,228.0 1679.5,252.0 1681.0,262.0 1683.0,250.0 1685.0,268.0 1688.0,300.0 1692.7,333.0 1697.0,310.0 1699.5,275.0 1701.5,215.0 1703.0,166.0 1704.5,215.0 1706.0,255.0 1708.0,266.0 1711.0,268.0 1714.0,280.0 1720.0,296.0 1722.0,305.0 1726.0,300.0 1729.0,280.0 1732.0,260.0 1735.0,236.0 1736.5,244.0 1738.0,252.0 1742.0,254.0 1748.0,250.0 1754.0,244.5 1760.0,238.0 1770.0,226.0 1780.0,212.0 1790.0,194.0 1800.0,168.0 1810.0,138.0 1820.0,108.0 1826.0,91.0 1832.5,75.0 1837.5,67.0 1842.5,61.3 1847.0,58.8 1851.3,58.0 1856.0,59.0 1860.0,60.5 1865.0,65.0 1870.0,71.0 1880.0,88.5 1890.0,108.5 1895.0,126.0 1899.9,147.0 1905.0,171.0 1912.5,201.0 1923.0,251.0 1929.0,289.0 1936.6,333.7 1942.0,367.0 1947.4,401.0 1955.0,439.0 1963.2,478.2 1970.4,531.0 1980.0,602.0 1990.0,675.7 1997.0,727.3 2000.0,749.0" fill="none" stroke="#ffa500" stroke-width="3.4" stroke-linejoin="round"/>
<polyline points="824.8,724.8 1064.5,905.9 1066.5,907.5" fill="none" stroke="#800080" stroke-width="3.4"/>
<polyline points="1519.5,910.0 1520.0,906.0 1524.5,866.0 1530.0,822.5 1536.0,783.0 1542.5,742.5 1547.5,713.0 1552.5,685.0 1557.5,660.0 1562.5,632.5 1567.5,610.0 1572.5,590.0 1577.5,574.0 1582.5,560.0 1587.5,549.0 1592.5,540.0 1598.5,531.0 1605.0,523.8 1611.0,519.3 1617.5,516.3 1622.5,515.5 1627.5,515.5 1633.5,516.5 1640.0,518.8 1646.0,522.5 1652.5,527.5 1657.5,533.0 1662.5,538.8 1666.0,542.5 1669.5,544.5 1672.0,540.0 1674.0,533.0 1675.7,525.7 1678.5,508.0 1681.9,491.6 1685.5,478.0 1689.6,472.9 1692.5,477.0 1695.8,488.4 1700.0,502.0 1705.1,516.4 1710.0,527.0 1714.0,533.0 1717.5,535.0 1721.5,530.0 1725.3,519.5 1729.0,505.0 1733.0,488.4 1740.0,468.0 1748.5,448.1 1756.0,434.0 1764.0,423.3 1770.0,415.5 1776.4,409.4 1781.0,406.5 1785.7,405.3 1790.0,405.8 1795.0,407.8 1801.0,412.5 1807.4,420.2 1813.5,430.0 1819.8,441.9 1826.0,456.0 1832.2,472.9 1840.0,494.7 1849.4,530.0 1858.0,560.0 1866.0,588.0 1873.0,612.0 1879.8,636.5 1886.0,664.0 1893.0,697.0 1900.8,735.3 1909.0,782.0 1917.9,834.2 1925.0,872.0 1931.2,904.5 1932.2,910.0" fill="none" stroke="#800080" stroke-width="3.4" stroke-linejoin="round"/>
<polyline points="824.8,719.7 1081.0,905.9 1083.0,907.5" fill="none" stroke="#000" stroke-width="3.6"/>
<polyline points="1364.5,904.9 1365.1,773.8 1365.7,904.9 1364.6,910.0 1365.1,904.9 1366.0,890.8 1366.9,878.0 1367.8,866.8 1368.7,844.4 1369.6,828.0 1370.5,813.5 1371.4,805.7 1372.3,802.3 1373.2,797.6 1374.1,791.2 1375.0,779.6 1375.9,775.0 1376.8,767.8 1377.7,767.8 1378.6,764.9 1379.5,758.7 1380.4,762.0 1381.3,768.3 1382.2,776.5 1383.1,776.5 1384.0,759.9 1384.9,750.2 1385.8,745.8 1386.7,737.3 1387.6,732.6 1388.5,727.9 1389.4,721.5 1390.3,721.1 1391.2,718.1 1392.1,717.8 1393.0,713.2 1393.9,711.3 1394.8,707.9 1395.7,705.3 1396.6,700.4 1397.5,695.7 1398.4,696.4 1399.3,692.8 1400.2,688.3 1401.1,684.2 1402.0,678.6 1402.9,674.7 1403.8,672.1 1404.7,667.8 1405.6,668.9 1406.5,664.4 1407.4,664.8 1408.3,659.8 1409.2,661.4 1410.1,658.9 1411.0,652.1 1411.9,660.1 1412.8,673.0 1413.7,681.8 1414.6,675.9 1415.5,663.5 1416.4,654.4 1417.3,654.0 1418.2,651.6 1419.1,645.4 1420.0,642.1 1420.9,641.4 1421.8,643.0 1422.7,634.5 1423.6,622.8 1424.5,615.7 1425.4,617.8 1426.3,622.0 1427.2,632.1 1428.1,623.4 1429.0,612.4 1429.9,602.3 1430.8,592.6 1431.7,592.1 1432.6,584.7 1433.5,584.0 1434.4,577.5 1435.3,576.5 1436.2,572.4 1437.1,569.9 1438.0,571.3 1438.9,567.7 1439.8,562.1 1440.7,563.0 1441.6,556.4 1442.5,555.0 1443.4,555.3 1444.3,551.6 1445.2,545.9 1446.1,548.1 1447.0,539.9 1447.9,536.5 1448.8,533.2 1449.7,514.4 1450.6,496.4 1451.5,475.6 1452.4,463.7 1453.3,455.3 1454.2,445.0 1455.1,440.6 1456.0,436.3 1456.9,433.2 1457.8,433.2 1458.7,429.4 1459.6,432.9 1460.5,454.8 1461.4,430.6 1462.3,416.6 1463.2,415.9 1464.1,412.0 1465.0,407.0 1465.9,404.0 1466.8,403.6 1467.7,402.5 1468.6,397.6 1469.5,398.9 1470.4,396.9 1470.5,394.7 1471.1,359.5 1471.7,394.7 1471.3,394.1 1472.2,391.4 1473.1,388.3 1474.0,386.2 1474.9,388.2 1475.8,382.7 1476.7,378.9 1477.6,371.5 1478.5,369.3 1479.4,364.8 1480.3,361.0 1481.2,359.9 1482.1,361.5 1483.0,358.3 1483.9,358.5 1484.8,359.3 1485.7,360.1 1486.6,358.7 1487.5,356.4 1488.4,357.6 1489.3,353.5 1490.2,351.7 1490.4,351.7 1491.0,279.0 1491.6,351.7 1491.1,351.7 1492.0,350.9 1492.9,347.5 1493.8,346.1 1494.7,344.7 1495.6,343.3 1496.5,338.5 1497.4,335.8 1498.3,334.4 1499.2,331.1 1500.1,326.5 1501.0,325.4 1501.9,323.8 1502.8,320.8 1503.7,319.4 1504.6,318.5 1505.5,321.1 1506.4,320.3 1507.3,322.4 1508.2,319.7 1509.1,322.3 1510.0,321.3 1510.9,322.0 1511.8,316.0 1512.7,314.1 1513.6,306.2 1514.5,305.2 1515.4,304.1 1516.3,303.0 1517.2,300.5 1518.1,298.6 1518.4,297.2 1519.0,261.6 1519.6,297.2 1519.0,297.2 1519.9,295.9 1520.8,291.8 1521.7,291.9 1522.6,291.6 1523.5,290.4 1524.4,287.4 1525.3,287.7 1526.2,286.7 1527.1,284.1 1527.4,283.0 1528.0,264.0 1528.6,283.0 1528.0,283.0 1528.9,280.7 1529.8,280.5 1530.7,279.7 1531.6,276.7 1532.5,278.4 1533.4,279.6 1534.3,278.9 1535.2,278.1 1536.1,276.5 1537.0,277.7 1537.9,276.9 1538.8,276.2 1539.7,277.6 1540.4,275.6 1541.0,257.0 1541.6,275.6 1540.6,274.4 1541.5,277.1 1542.4,274.3 1543.3,276.6 1544.2,276.2 1545.1,275.3 1546.0,277.3 1546.9,276.4 1547.8,276.7 1548.7,277.8 1549.6,275.1 1550.5,273.9 1551.4,274.9 1552.3,276.1 1553.2,274.0 1554.1,273.6 1555.0,275.9 1555.9,274.2 1556.8,272.7 1557.7,273.8 1558.6,270.9 1559.5,271.5 1562.0,269.0 1564.0,272.0 1566.0,273.0 1568.7,275.3 1569.3,158.8 1569.9,275.3 1569.0,275.0 1572.0,278.0 1575.0,284.0 1578.0,291.0 1579.4,295.7 1580.0,274.0 1580.6,295.7 1581.0,298.0 1583.0,306.0 1585.0,314.0 1586.5,322.0 1588.0,330.0 1589.5,340.0 1591.0,350.0 1592.5,348.0 1593.4,344.8 1594.0,263.0 1594.6,344.8 1594.4,344.0 1596.0,339.0 1598.0,336.0 1599.5,339.0 1601.0,344.0 1603.0,350.0 1605.0,356.0 1606.5,356.0 1608.0,354.0 1609.0,347.0 1610.7,335.0 1611.7,195.0 1612.7,335.0 1615.0,350.0 1616.0,358.0 1618.0,366.0 1620.0,372.0 1622.0,377.5 1624.0,382.0 1626.2,385.7 1626.8,215.0 1627.4,385.7 1627.0,386.0 1632.0,388.5 1637.0,387.0 1641.0,384.0 1644.0,378.0 1645.2,371.0 1646.4,364.0 1647.7,367.0 1649.0,368.0 1650.5,352.0 1652.0,336.0 1653.2,341.0 1654.4,344.0 1655.6,330.0 1657.0,310.0 1657.8,270.0 1658.8,189.0 1659.8,260.0 1661.0,290.0 1662.4,297.0 1664.0,296.0 1666.0,292.0 1667.5,278.0 1669.0,260.0 1670.5,230.0 1672.0,200.0 1673.3,172.0 1675.0,158.0 1676.6,170.0 1677.8,190.0 1679.0,212.0 1680.0,230.0 1681.0,242.0 1682.0,226.0 1683.0,212.0 1684.0,236.0 1684.8,252.0 1685.8,272.4 1686.4,112.5 1687.0,272.4 1687.0,280.0 1690.0,292.0 1694.0,297.0 1697.0,292.0 1697.4,281.0 1698.0,-5.0 1698.6,281.0 1699.0,270.0 1700.5,240.0 1701.8,190.0 1703.0,154.0 1704.2,195.0 1705.2,228.0 1707.0,248.0 1710.0,246.0 1711.4,246.0 1712.0,253.0 1712.6,138.8 1713.2,253.0 1713.8,260.0 1716.0,268.0 1719.0,278.0 1722.0,287.0 1725.0,282.0 1726.9,262.0 1727.5,-5.0 1728.1,262.0 1727.5,262.0 1729.0,246.0 1732.0,228.0 1735.6,216.0 1737.0,224.0 1738.5,232.0 1740.4,232.0 1741.0,-5.0 1741.6,232.0 1741.0,232.0 1743.0,231.0 1748.0,224.0 1752.0,214.0 1752.4,206.0 1753.0,213.0 1760.0,206.0 1764.7,199.6 1765.3,100.0 1765.9,199.6 1765.0,200.0 1770.0,194.0 1780.0,180.0 1783.8,172.7 1784.4,-5.0 1785.0,172.7 1785.0,170.7 1785.6,-5.0 1786.2,170.7 1786.0,170.0 1786.2,168.7 1786.8,-5.0 1787.4,168.7 1787.4,166.7 1788.0,-5.0 1788.6,166.7 1789.4,163.3 1790.0,105.0 1790.6,163.3 1792.0,160.0 1800.0,146.0 1806.0,131.0 1812.5,113.0 1816.2,101.0 1816.8,-5.0 1817.4,101.0 1817.5,99.0 1822.5,87.5 1823.9,83.7 1824.5,-5.0 1825.1,83.7 1827.5,78.0 1832.5,70.0 1837.5,63.0 1842.5,57.5 1847.0,55.0 1851.3,54.5 1856.0,55.5 1856.2,55.9 1856.8,-5.0 1857.4,55.9 1860.0,57.5 1865.0,63.0 1870.0,70.0 1875.0,78.0 1880.0,87.5 1881.2,83.0 1881.8,92.0 1885.0,97.0 1890.0,107.5 1895.0,125.0 1898.8,141.0 1899.3,126.0 1899.9,146.0 1905.0,170.0 1912.5,200.0 1919.6,234.0 1920.0,227.0 1920.5,238.0 1923.0,250.0 1929.0,288.0 1936.6,332.7 1942.0,366.0 1947.4,400.0 1955.0,438.0 1963.2,477.2 1970.4,530.0 1980.0,601.0 1990.0,674.7 1997.0,726.3 2000.0,748.0" fill="none" stroke="#000" stroke-width="3.6" stroke-linejoin="round"/>
<polyline points="1366.4,885.0 1367.8,864.3 1369.0,838.0 1370.5,813.0 1373.2,796.8 1375.0,782.0 1377.3,767.0 1380.5,758.9 1381.6,768.0 1382.7,781.9 1384.0,762.0 1385.4,748.1 1387.5,735.0 1389.5,723.8 1392.0,716.0 1394.9,707.6 1397.5,697.0 1400.3,685.9 1403.0,676.0 1405.7,667.0 1408.5,660.0 1411.1,654.9 1412.6,668.0 1413.8,683.2 1415.0,668.0 1416.5,656.2 1419.0,647.0 1421.9,640.0 1424.6,616.3 1426.2,624.0 1427.6,632.8 1429.0,612.0 1430.6,595.3 1434.0,581.0 1438.1,568.2 1442.0,557.0 1445.6,547.2 1448.6,535.2" fill="none" stroke="#000" stroke-width="4.0" stroke-linejoin="round"/>
<polyline points="1448.9,535.2 1450.9,508.2 1452.7,475.1 1454.5,455.0 1456.8,440.0 1459.8,428.0" fill="none" stroke="#000" stroke-width="7.2" stroke-linejoin="round" stroke-linecap="round"/>
<polyline points="1461.8,420.0 1464.0,411.0 1466.6,403.1 1469.0,398.0 1471.1,394.1 1473.5,389.0 1475.6,385.0 1478.0,370.0 1480.0,362.0 1483.0,360.0 1487.0,358.0 1489.0,355.0 1491.6,352.0 1494.0,347.0 1496.0,342.0 1498.0,334.0 1500.0,326.0 1503.0,322.0 1506.0,319.0 1508.5,322.0 1511.0,321.0 1512.5,313.0 1514.0,306.0 1516.0,302.0 1518.0,298.0" fill="none" stroke="#000" stroke-width="4.2" stroke-linejoin="round"/>
<line x1="839.8" y1="735.8" x2="839.8" y2="776.3" stroke="#1f77b4" stroke-width="3.6"/>
<circle cx="839.8" cy="754.5" r="12.9" fill="#1f77b4"/>
<line x1="946.7" y1="805.2" x2="946.7" y2="845.3" stroke="#1f77b4" stroke-width="3.6"/>
<circle cx="946.7" cy="823.7" r="12.9" fill="#1f77b4"/>
<circle cx="1460.5" cy="423.0" r="12.9" fill="#1f77b4"/>
<circle cx="1482" cy="376" r="12.9" fill="#1f77b4"/>
<circle cx="1525" cy="290" r="12.9" fill="#1f77b4"/>
<circle cx="1541" cy="277.6" r="12.9" fill="#1f77b4"/>
<circle cx="1559" cy="290" r="12.9" fill="#1f77b4"/>
<circle cx="1582.4" cy="298.6" r="12.9" fill="#1f77b4"/>
<circle cx="1632.4" cy="387.6" r="12.9" fill="#1f77b4"/>
<line x1="1936.6" y1="318.8" x2="1936.6" y2="347.2" stroke="#1f77b4" stroke-width="3.6"/>
<circle cx="1936.6" cy="332.7" r="12.9" fill="#1f77b4"/>
<circle cx="1963" cy="477" r="12.9" fill="#1f77b4"/>
</g>
<rect x="823.8" y="0" width="1174.15" height="1.1" fill="#c4c4c4"/>
<rect x="824.75" y="1.75" width="1172.25" height="905.25" fill="none" stroke="#000" stroke-width="1.9"/>
<text><tspan x="874.51" y="944.00" font-size="36" letter-spacing="-0.6">10</tspan><tspan x="919.12" y="931.00" font-size="25.4">−3</tspan></text>
<text><tspan x="1046.57" y="944.00" font-size="36" letter-spacing="-0.6">10</tspan><tspan x="1091.18" y="931.00" font-size="25.4">−2</tspan></text>
<text><tspan x="1218.27" y="944.00" font-size="36" letter-spacing="-0.6">10</tspan><tspan x="1262.88" y="931.00" font-size="25.4">−1</tspan></text>
<text><tspan x="1400.38" y="944.00" font-size="36" letter-spacing="-0.6">10</tspan><tspan x="1444.99" y="931.00" font-size="25.4">0</tspan></text>
<text><tspan x="1572.51" y="944.00" font-size="36" letter-spacing="-0.6">10</tspan><tspan x="1617.12" y="931.00" font-size="25.4">1</tspan></text>
<text><tspan x="1744.41" y="944.00" font-size="36" letter-spacing="-0.6">10</tspan><tspan x="1789.02" y="931.00" font-size="25.4">2</tspan></text>
<text><tspan x="1915.96" y="944.00" font-size="36" letter-spacing="-0.6">10</tspan><tspan x="1960.56" y="931.00" font-size="25.4">3</tspan></text>
<text><tspan x="755.92" y="741.00" font-size="36" letter-spacing="-0.6">10</tspan><tspan x="800.53" y="728.00" font-size="25.4">0</tspan></text>
<text><tspan x="756.58" y="464.15" font-size="36" letter-spacing="-0.6">10</tspan><tspan x="801.18" y="451.15" font-size="25.4">1</tspan></text>
<text><tspan x="756.77" y="187.30" font-size="36" letter-spacing="-0.6">10</tspan><tspan x="801.38" y="174.30" font-size="25.4">2</tspan></text>
<line x1="854.7" y1="47.7" x2="929.6" y2="47.7" stroke="#000" stroke-width="3.2"/>
<text x="957.5" y="60.5" font-size="35.5">total SED</text>
<line x1="854.7" y1="100.0" x2="929.6" y2="100.0" stroke="#00ffff" stroke-width="3.2"/>
<text x="957.5" y="112.8" font-size="35.5">stellar</text>
<line x1="854.7" y1="152.3" x2="929.6" y2="152.3" stroke="#008000" stroke-width="3.2"/>
<text x="957.5" y="165.1" font-size="35.5">nebular</text>
<line x1="854.7" y1="204.6" x2="929.6" y2="204.6" stroke="#ffa500" stroke-width="3.2"/>
<text x="957.5" y="217.4" font-size="35.5">dust</text>
<line x1="854.7" y1="256.9" x2="929.6" y2="256.9" stroke="#800080" stroke-width="3.2"/>
<text x="957.5" y="269.7" font-size="35.5">AGN</text>
<line x1="892.2" y1="291" x2="892.2" y2="326.8" stroke="#1f77b4" stroke-width="3.6"/>
<circle cx="892.2" cy="309.1" r="12.9" fill="#1f77b4"/>
<text x="957.5" y="321.9" font-size="35.5">data</text>
<text><tspan x="1260.86" y="125.00" font-size="36.00">J0107a, </tspan><tspan x="1406.11" y="125.00" font-size="36.00" font-style="italic">z</tspan><tspan x="1424.63" y="130.00" font-size="25.20">spec</tspan><tspan x="1483.59" y="125.00" font-size="36.00">=</tspan><tspan x="1513.36" y="125.00" font-size="36.00">2.467</tspan></text>
<text transform="translate(737.2,619.8) rotate(-90)"><tspan x="-3.53" y="0.00" font-size="36.00">Flux </tspan><tspan x="81.60" y="0.00" font-size="36.00">/ </tspan><tspan x="105.54" y="0.00" font-size="36.00">10</tspan><tspan x="150.99" y="-13.90" font-size="25.60">−18 </tspan><tspan x="216.20" y="0.00" font-size="36.00">W </tspan><tspan x="262.83" y="0.00" font-size="36.00">m</tspan><tspan x="298.19" y="-13.90" font-size="25.60">−2</tspan></text>
<text><tspan x="1345.08" y="990.00" font-size="36.00" font-style="italic">λ</tspan><tspan x="1364.61" y="995.00" font-size="25.20">obs</tspan><tspan x="1411.00" y="990.00" font-size="36.00">/</tspan><tspan x="1422.77" y="990.00" font-size="36.00" font-style="italic">μ</tspan><tspan x="1444.53" y="990.00" font-size="36.00">m</tspan></text>
</svg>
</body></html>
